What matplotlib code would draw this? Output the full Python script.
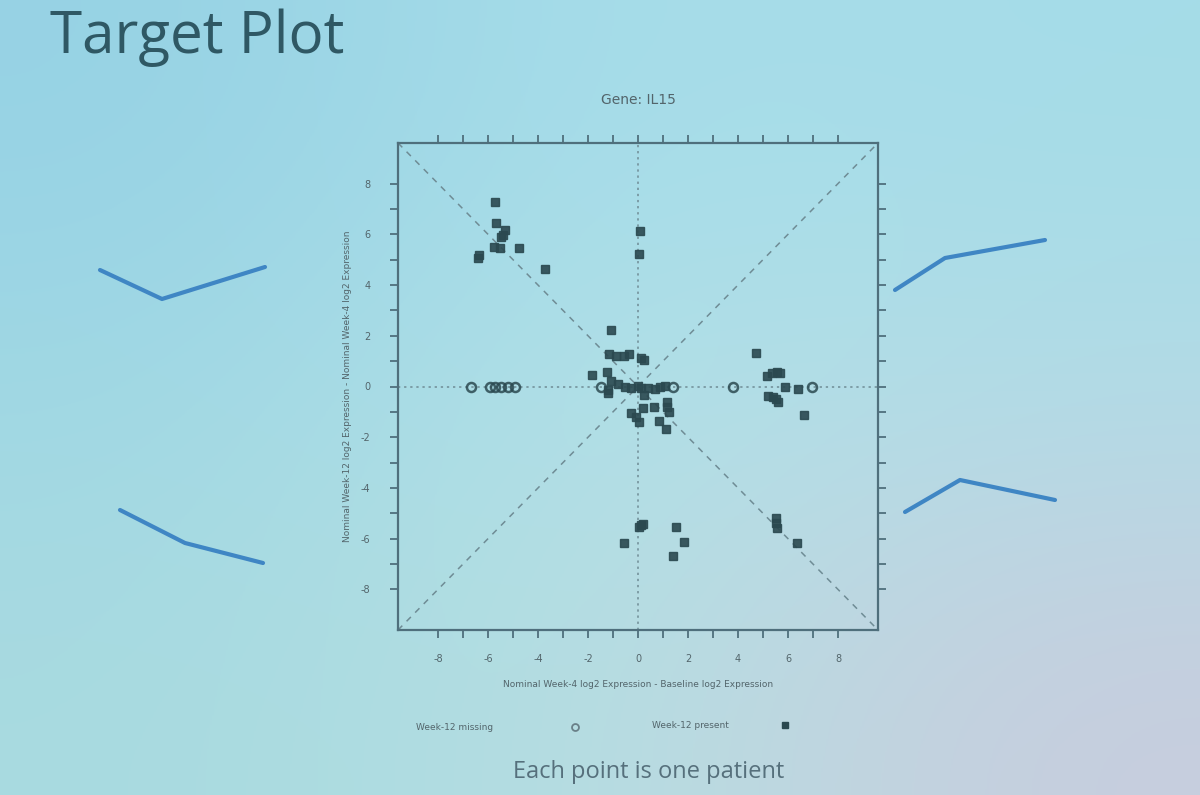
import numpy as np
import matplotlib
matplotlib.use("Agg")
import matplotlib.pyplot as plt
from matplotlib.lines import Line2D

# ---------------- data ----------------
gene = "IL15"
x_label = "Nominal Week-4 log2 Expression - Baseline log2 Expression"
y_label = "Nominal Week-12 log2 Expression - Nominal Week-4 log2 Expression"
tick_values = [-8, -6, -4, -2, 0, 2, 4, 6, 8]

present_x = [-5.71, -5.67, -5.33, -5.41, -5.50, -5.78, -5.51, -4.76, -6.40, -6.36, -3.72,
             0.06, 0.04,
             -1.10, -1.17, -0.90, -0.57, -0.37, 0.10, 0.23, -1.85, -1.23,
             -1.20, -1.07, -0.80, -0.54, -0.27, 0.00, 0.13, 0.40, 0.66, 0.86, 1.06,
             -0.29, -0.09, 0.04, 0.21, 0.64, 1.15, 1.17, 1.24, 0.83, 1.13, 0.24, -1.22,
             4.70, 5.15, 5.35, 5.55, 5.68, 5.19, 5.39, 5.52, 5.59, 6.64, 5.87, 6.40,
             0.18, 0.11, 0.05, -0.57, 1.52, 1.83, 1.39,
             5.52, 5.52, 5.56, 6.35]
present_y = [7.26, 6.46, 6.16, 5.96, 5.90, 5.51, 5.47, 5.47, 5.06, 5.20, 4.62,
             6.15, 5.23,
             2.23, 1.27, 1.20, 1.20, 1.27, 1.14, 1.06, 0.46, 0.59,
             -0.12, 0.20, 0.10, 0.00, -0.05, 0.02, -0.05, -0.05, -0.10, 0.00, 0.02,
             -1.06, -1.19, -1.39, -0.86, -0.80, -0.60, -0.80, -1.00, -1.37, -1.66, -0.34, -0.26,
             1.32, 0.42, 0.52, 0.56, 0.52, -0.36, -0.43, -0.50, -0.63, -1.12, -0.02, -0.10,
             -5.41, -5.47, -5.54, -6.17, -5.55, -6.15, -6.68,
             -5.20, -5.40, -5.59, -6.17]
missing_x = [-6.67, -5.94, -5.74, -5.47, -5.20, -4.94, 3.80, 6.94, -1.47, 1.40]
missing_y = [0, 0, 0, 0, 0, 0, 0, 0, 0, 0]

# ---------------- figure ----------------
W, H = 1200, 795
fig = plt.figure(figsize=(W / 100, H / 100), dpi=100)

# photographed-slide background gradient
bg = fig.add_axes([0, 0, 1, 1], zorder=-10)
corners = np.array([
    [[150, 210, 228], [168, 222, 234], [165, 220, 232]],
    [[160, 216, 228], [180, 226, 232], [178, 220, 230]],
    [[168, 218, 224], [182, 224, 226], [200, 205, 222]],
]) / 255.0
bg.imshow(corners, extent=[0, 1, 0, 1], aspect="auto", interpolation="bicubic")
bg.set_axis_off()

text_col = "#53656b"
frame_col = "#4f6f7c"
pt_col = "#2b4950"

ax = fig.add_axes([398 / W, 1 - 630 / H, 480 / W, 487 / H])
ax.set_facecolor("none")
lim = 9.6
ax.set_xlim(-lim, lim)
ax.set_ylim(-lim, lim)

# reference lines
ax.plot([-lim, lim], [-lim, lim], ls=(0, (4, 4)), color="#6f8c95", lw=1.1)
ax.plot([-lim, lim], [lim, -lim], ls=(0, (4, 4)), color="#6f8c95", lw=1.1)
ax.axhline(0, ls=(0, (1.5, 2.5)), color="#6f8c95", lw=1.1)
ax.axvline(0, ls=(0, (1.5, 2.5)), color="#6f8c95", lw=1.1)

ax.plot(present_x, present_y, "s", ms=5.5, color=pt_col, mec=pt_col, alpha=0.9)
ax.plot(missing_x, missing_y, "o", ms=6.5, mfc="none", mec=pt_col, mew=1.8, alpha=0.85)

for s in ax.spines.values():
    s.set_color(frame_col)
    s.set_linewidth(1.6)

ax.set_xticks(range(-8, 9))
ax.set_yticks(range(-8, 9))
ax.set_xticklabels([str(v) if v in tick_values else "" for v in range(-8, 9)])
ax.set_yticklabels([str(v) if v in tick_values else "" for v in range(-8, 9)])
ax.tick_params(which="both", direction="out", length=6, width=1.3, color=frame_col,
               top=True, right=True, labelsize=7, labelcolor=text_col, pad=14)
ax.tick_params(axis="x", pad=11)

ax.set_title(f"Gene: {gene}", fontsize=10, color=text_col, pad=28)
ax.set_xlabel(x_label, fontsize=6.5, color=text_col, labelpad=12)
ax.set_ylabel(y_label, fontsize=6.5, color=text_col, labelpad=6)

# legend row beneath the plot
fig.text(455 / W, 1 - 727 / H, "Week-12 missing", fontsize=6.5, color=text_col,
         ha="center", va="center")
fig.add_artist(Line2D([575 / W], [1 - 727 / H], marker="o", ms=5, mfc="none",
                      mec="#6a8088", mew=1.3, transform=fig.transFigure))
fig.text(690 / W, 1 - 725 / H, "Week-12 present", fontsize=6.5, color=text_col,
         ha="center", va="center")
fig.add_artist(Line2D([785 / W], [1 - 725 / H], marker="s", ms=4.5, color=pt_col,
                      transform=fig.transFigure))

# slide text
fig.text(50 / W, 1 - 53 / H, "Target Plot", fontsize=42, color="#2f5864",
         family="Open Sans", ha="left", va="baseline")
fig.text(649 / W, 1 - 778 / H, "Each point is one patient", fontsize=17,
         color="#56707c", family="Open Sans", ha="center", va="baseline")

# hand-drawn blue strokes on the slide
strokes = [
    [(100, 270), (162, 299), (265, 267)],
    [(120, 510), (185, 543), (263, 563)],
    [(895, 290), (945, 258), (1045, 240)],
    [(905, 512), (960, 480), (1055, 500)],
]
for st in strokes:
    xs = [p[0] / W for p in st]
    ys = [1 - p[1] / H for p in st]
    fig.add_artist(Line2D(xs, ys, color="#3f86c4", lw=3, solid_capstyle="round",
                          solid_joinstyle="round", transform=fig.transFigure))

fig.savefig("out.png", dpi=100)
